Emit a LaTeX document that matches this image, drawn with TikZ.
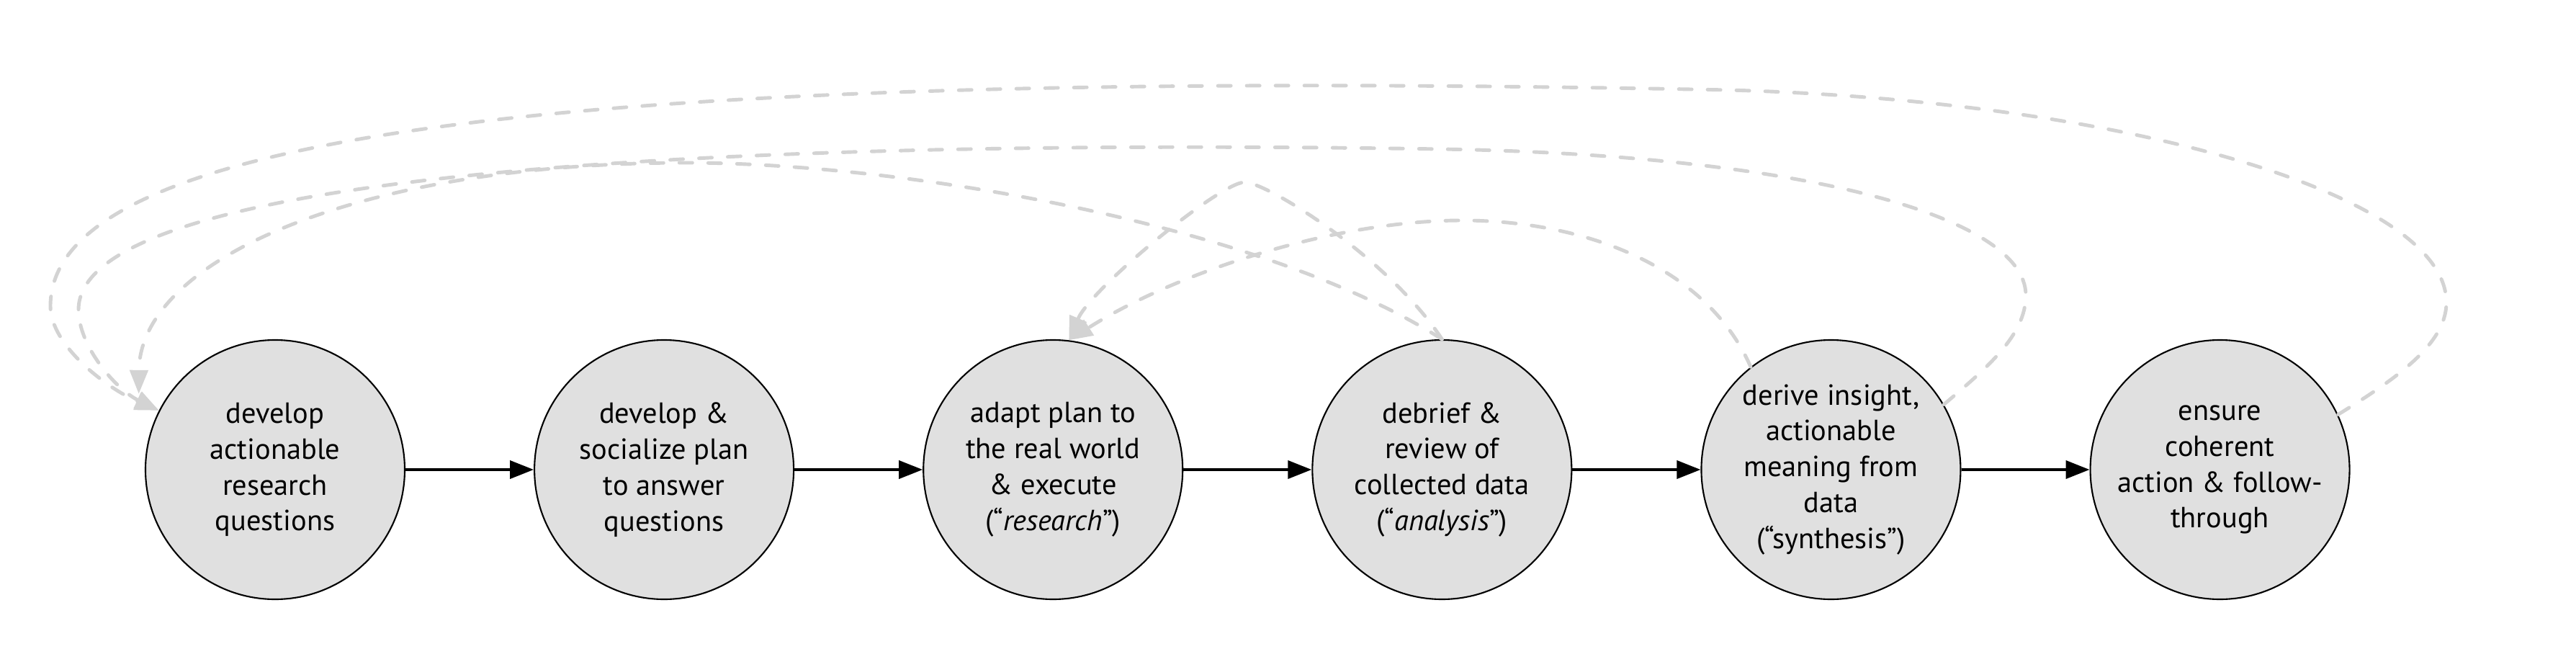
\documentclass[tikz,border=0pt]{standalone}
\usepackage{fontspec}
\setmainfont{PT Sans}
\usetikzlibrary{arrows.meta, positioning}

\definecolor{stagegray}{HTML}{E0E0E0}
\definecolor{loopgray}{HTML}{D3D3D3}

\begin{document}
\begin{tikzpicture}[
    stage node/.style={circle, draw=black, line width=0.6pt, fill=stagegray,
        minimum size=3.6cm, inner sep=0pt, align=center,
        font=\fontsize{11.5}{14.2}\selectfont},
    flow arrow/.style={line width=1.1pt, -{Triangle[length=0.33cm, width=0.25cm]}},
    loop line/.style={loopgray, line width=1.4pt, line cap=round,
        dash pattern=on 0.18cm off 0.22cm, -{Triangle[length=0.33cm, width=0.25cm]}}
]
    \useasboundingbox (0,0) rectangle (35.77,9);

    % Stages
    \def\gap{1.78cm}
    \node[stage node] (n1) at (3.82,2.48) {develop\\actionable\\research\\questions};
    \node[stage node, right=\gap of n1] (n2) {develop \&\\socialize plan\\to answer\\questions};
    \node[stage node, right=\gap of n2] (n3) {adapt plan to\\the real world\\\& execute\\(“\textit{research}”)};
    \node[stage node, right=\gap of n3] (n4) {debrief \&\\review of\\collected data\\(“\textit{analysis}”)};
    \node[stage node, right=\gap of n4] (n5) {derive insight,\\actionable\\meaning from\\data\\(“synthesis”)};
    \node[stage node, right=\gap of n5] (n6) {ensure\\coherent\\action \& follow-\\through};

    % Main sequence
    \foreach \a/\b in {n1/n2, n2/n3, n3/n4, n4/n5, n5/n6}
        \draw[flow arrow] (\a) -- (\b);

    % Feedback loops back to the questions
    \coordinate (n1stub) at ([shift={(-0.28,0.23)}]n1.153);
    \draw[loop line] (n6.25) .. controls (33.2,3.7) and (33.97,4.2) .. (33.97,4.8)
        .. controls (33.97,6.3) and (29.5,7.6) .. (24,7.75)
        .. controls (9,8.05) and (0.7,7.3) .. (0.7,4.75)
        .. controls (0.7,4.2) and (1.5,3.6) .. (n1.153);
    \draw[loop line] (n5.30) .. controls (27.6,3.9) and (28.13,4.35) .. (28.13,4.9)
        .. controls (28.13,6.0) and (25,6.85) .. (20,6.93)
        .. controls (9,7.1) and (1.09,6.5) .. (1.09,4.7)
        .. controls (1.09,4.2) and (1.6,3.6) .. (n1.153);
    \draw[loop line] (n4.north) .. controls (17.5,5.9) and (12.5,6.74) .. (9.53,6.74)
        .. controls (5,6.74) and (1.94,5.4) .. (n1stub);

    % Feedback loops back to execution
    \draw[loop line] (n4.north) .. controls (19.3,5.4) and (17.6,6.47) .. (17.28,6.47)
        .. controls (16.95,6.47) and (15.15,5.0) .. (n3.83);
    \draw[loop line] (n5.128) .. controls (23.7,5.3) and (22,5.94) .. (20.3,5.94)
        .. controls (18.5,5.94) and (16.3,5.2) .. (n3.83);

\end{tikzpicture}
\end{document}
